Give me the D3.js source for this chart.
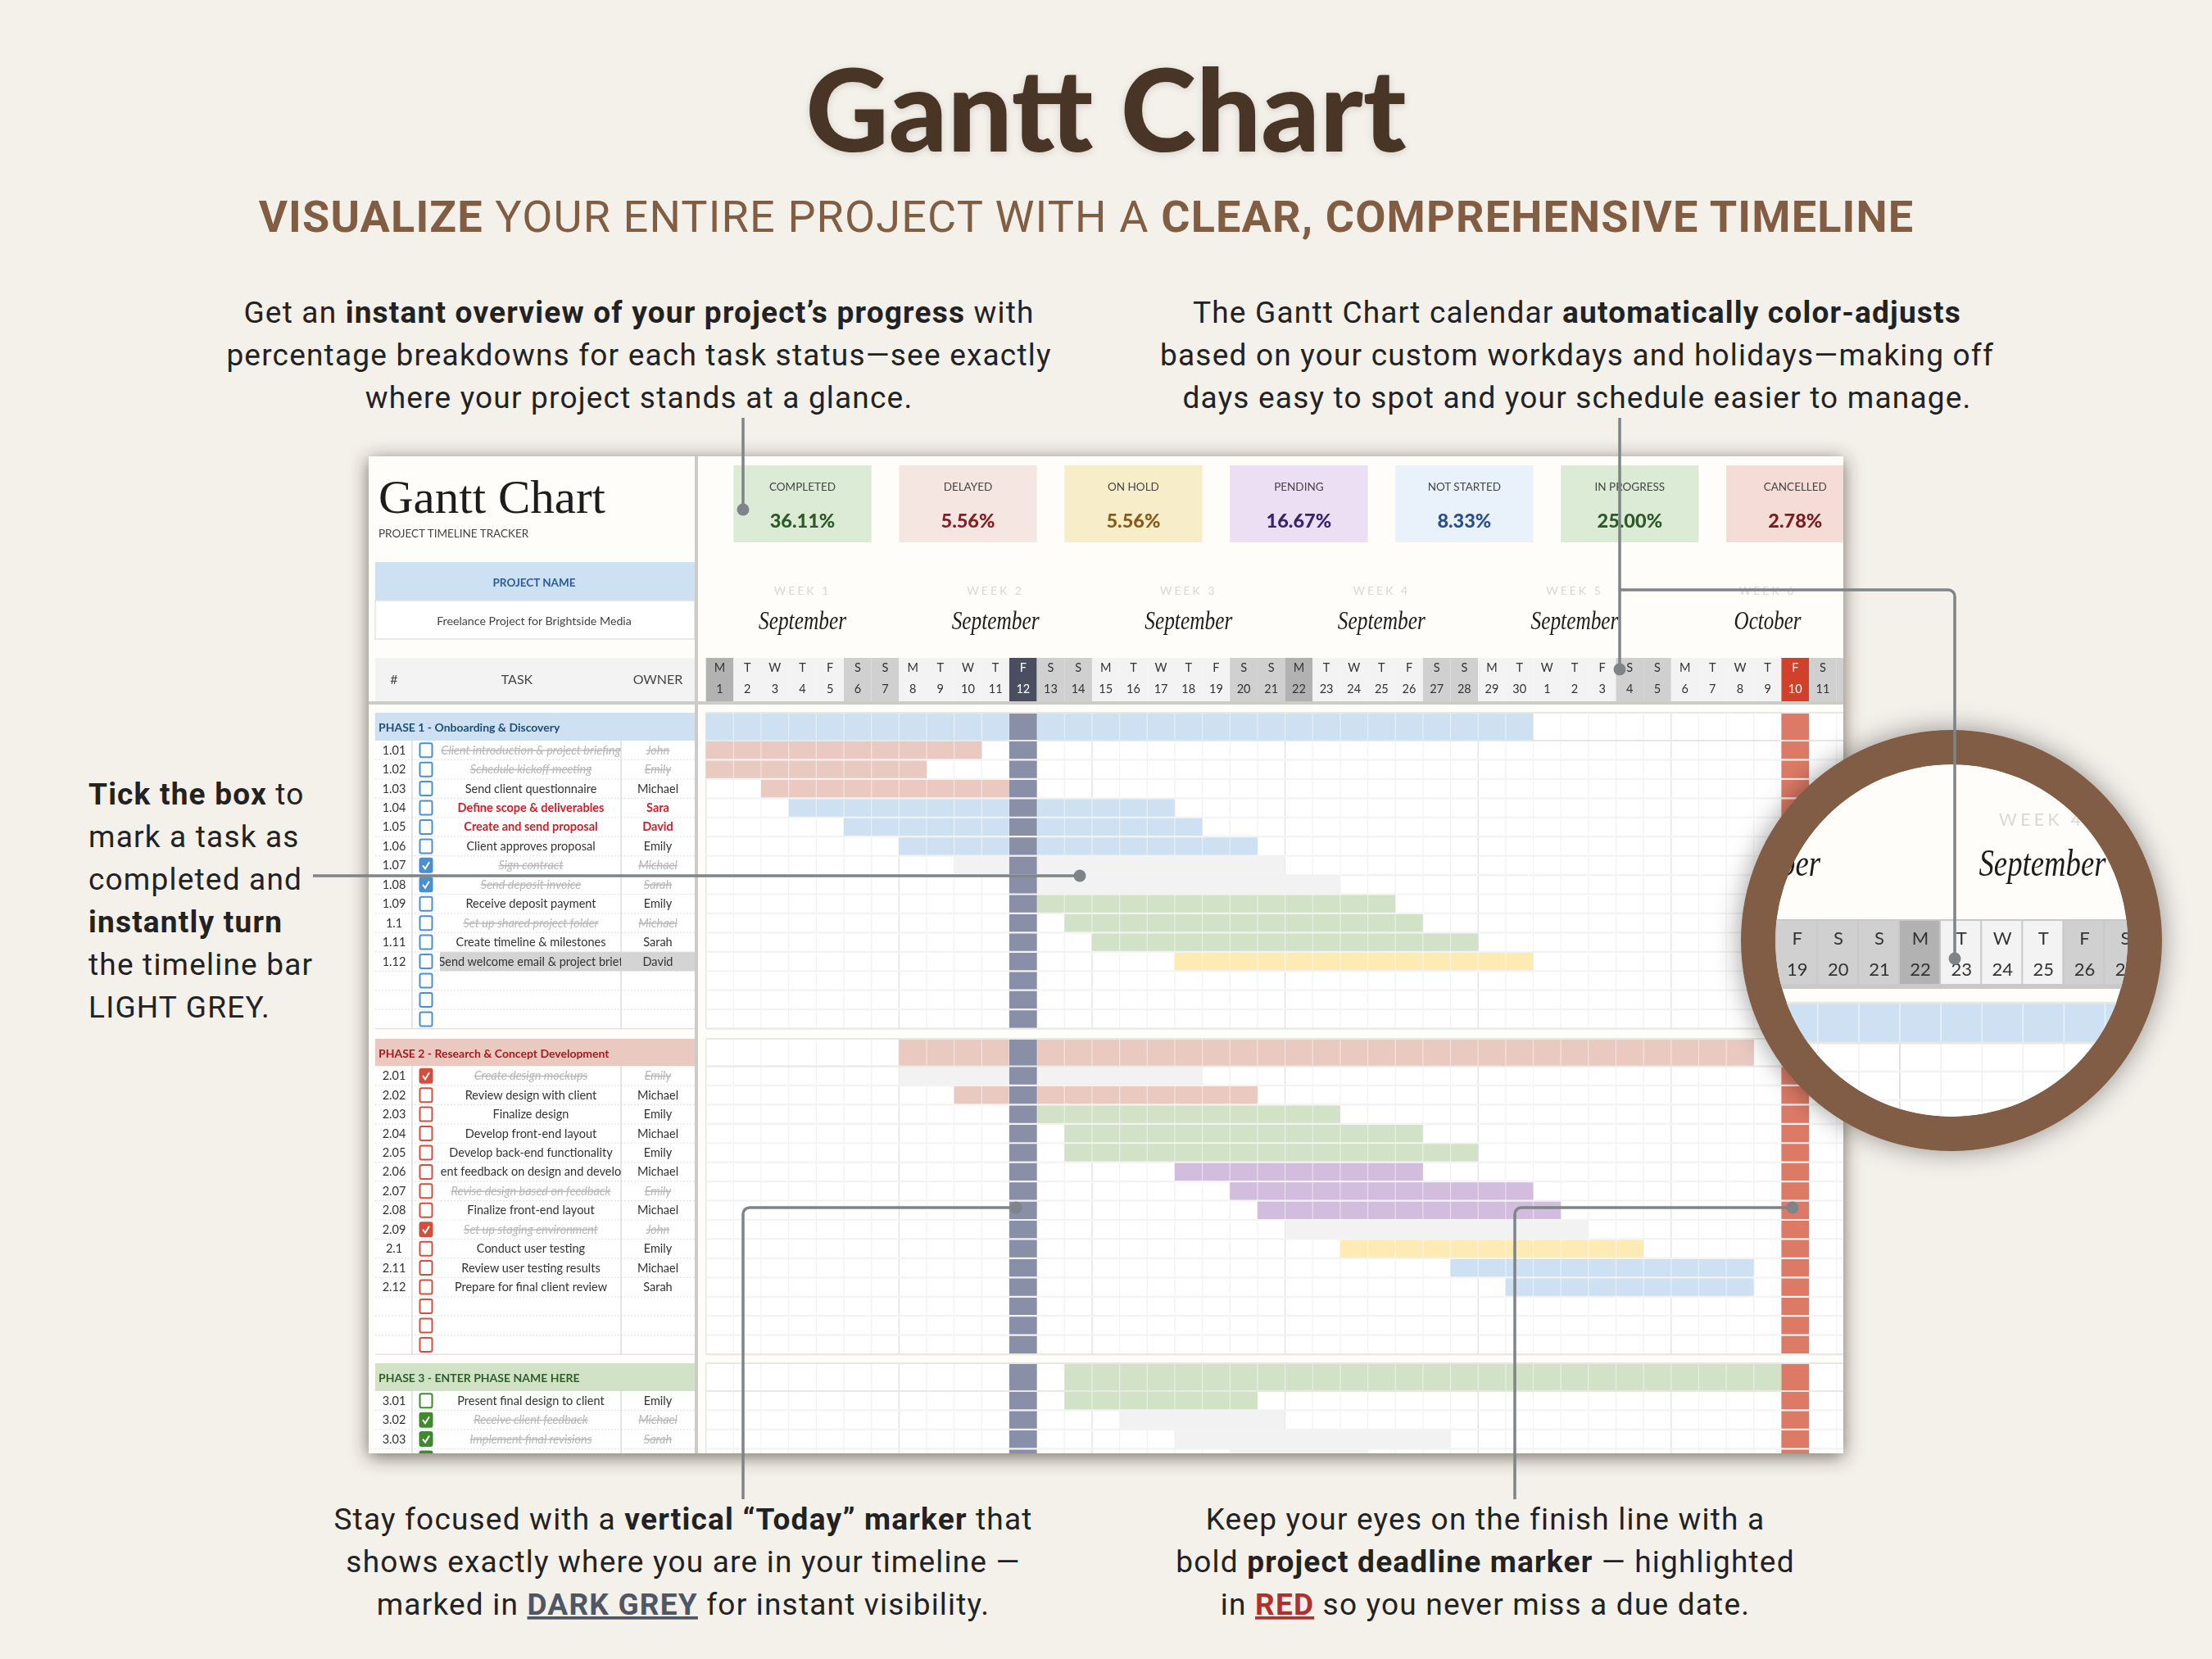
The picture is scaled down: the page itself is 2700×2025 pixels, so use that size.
<!DOCTYPE html>
<html>
<head>
<meta charset="utf-8">
<script src="https://cdn.jsdelivr.net/npm/d3@7/dist/d3.min.js"></script>
<style>
  body { margin: 0; background: #f4f0ea; }
  svg { display: block; }
  .axis path, .axis line { display: none; }
</style>
</head>
<body>
<div id="chart"></div>
<script>
var svgWidth = 2700;
var svgHeight = 2025;

// Calendar
var dayNumbers = [1,2,3,4,5,6,7,8,9,10,11,12,13,14,15,16,17,18,19,20,21,22,23,24,25,26,27,28,29,30,1,2,3,4,5,6,7,8,9,10,11];
var dayLetters = ["M","T","W","T","F","S","S","M","T","W","T","F","S","S","M","T","W","T","F","S","S","M","T","W","T","F","S","S","M","T","W","T","F","S","S","M","T","W","T","F","S"];
var offDays = [5,6,12,13,19,20,26,27,33,34,40,41];
var zoomOffDays = [18,19,20,25,26,27];
var markedMondays = [0,21];
var todayCol = 11;
var deadlineCol = 39;
var weekNames = ["WEEK 1","WEEK 2","WEEK 3","WEEK 4","WEEK 5","WEEK 6"];
var weekMonths = ["September","September","September","September","September","October"];

// Status tiles
var statusNames = ["COMPLETED","DELAYED","ON HOLD","PENDING","NOT STARTED","IN PROGRESS","CANCELLED"];
var statusValues = [36.11,5.56,5.56,16.67,8.33,25.00,2.78];
var statusFills = ["#dcebd5","#f5e6e2","#f7edc8","#ecdff3","#e9f1fa","#dcebd5","#f6dcd6"];
var statusInks = ["#2d5a2a","#8a1a20","#8a5a1a","#3a2070","#2a5090","#2d5a2a","#7a1a20"];

// Phase 1
var phase1Ids = ["1.01","1.02","1.03","1.04","1.05","1.06","1.07","1.08","1.09","1.1","1.11","1.12"];
var phase1Names = ["Client introduction & project briefing","Schedule kickoff meeting","Send client questionnaire","Define scope & deliverables","Create and send proposal","Client approves proposal","Sign contract","Send deposit invoice","Receive deposit payment","Set up shared project folder","Create timeline & milestones","Send welcome email & project brief"];
var phase1Owners = ["John","Emily","Michael","Sara","David","Emily","Michael","Sarah","Emily","Michael","Sarah","David"];
var phase1Styles = ["done","done","plain","late","late","plain","done","done","plain","done","plain","mark"];
var phase1Checked = [0,0,0,0,0,0,1,1,0,0,0,0,0,0,0];
var phase1Starts = [0,0,2,3,5,7,9,11,12,13,14,17];
var phase1Ends = [10,8,11,17,18,20,21,23,25,26,28,30];
var phase1Bars = ["red","red","red","blue","blue","blue","grey","grey","green","green","green","yellow"];

// Phase 2
var phase2Ids = ["2.01","2.02","2.03","2.04","2.05","2.06","2.07","2.08","2.09","2.1","2.11","2.12"];
var phase2Names = ["Create design mockups","Review design with client","Finalize design","Develop front-end layout","Develop back-end functionality","Get client feedback on design and development","Revise design based on feedback","Finalize front-end layout","Set up staging environment","Conduct user testing","Review user testing results","Prepare for final client review"];
var phase2Owners = ["Emily","Michael","Emily","Michael","Emily","Michael","Emily","Michael","John","Emily","Michael","Sarah"];
var phase2Styles = ["done","plain","plain","plain","plain","plain","done","plain","done","plain","plain","plain"];
var phase2Checked = [1,0,0,0,0,0,0,0,1,0,0,0,0,0,0];
var phase2Starts = [7,9,11,13,13,17,19,20,21,23,27,29];
var phase2Ends = [18,20,23,26,28,26,30,31,32,34,38,38];
var phase2Bars = ["grey","red","green","green","green","purple","purple","purple","grey","yellow","blue","blue"];

// Phase 3
var phase3Ids = ["3.01","3.02","3.03",""];
var phase3Names = ["Present final design to client","Receive client feedback","Implement final revisions",""];
var phase3Owners = ["Emily","Michael","Sarah",""];
var phase3Styles = ["plain","done","done","plain"];
var phase3Checked = [0,1,1,1];
var phase3Starts = [13,15,17,19];
var phase3Ends = [20,21,27,24];
var phase3Bars = ["green","grey","grey","grey"];

var barColors = {
    red: "#eac9c1",
    blue: "#cde1f2",
    green: "#d1e2c6",
    grey: "#f2f2f2",
    yellow: "#feebb4",
    purple: "#d3bddf"
};

var phases = [
    { title: "PHASE 1 - Onboarding & Discovery", fill: "#cde1f2", ink: "#1f4e79", box: "#4a90d2", top: 870, headBottom: 904, span: [0, 30], ids: phase1Ids, names: phase1Names, owners: phase1Owners, styles: phase1Styles, checked: phase1Checked, starts: phase1Starts, ends: phase1Ends, bars: phase1Bars, rows: 15 },
    { title: "PHASE 2 - Research & Concept Development", fill: "#eac9c1", ink: "#a61c1c", box: "#d2503e", top: 1268, headBottom: 1301.5, span: [7, 38], ids: phase2Ids, names: phase2Names, owners: phase2Owners, styles: phase2Styles, checked: phase2Checked, starts: phase2Starts, ends: phase2Ends, bars: phase2Bars, rows: 15 },
    { title: "PHASE 3 - ENTER PHASE NAME HERE", fill: "#d1e2c6", ink: "#2f5f2a", box: "#3f8a2f", top: 1664, headBottom: 1698, span: [13, 39], ids: phase3Ids, names: phase3Names, owners: phase3Owners, styles: phase3Styles, checked: phase3Checked, starts: phase3Starts, ends: phase3Ends, bars: phase3Bars, rows: 5 }
];

var rowHeight = 23.44;
var sheetFont = "Lato, 'Open Sans', sans-serif";
var noteFont = "Roboto, sans-serif";
var serifFont = "'Liberation Serif', serif";

// Column scale of the sheet and the same columns at magnifier size
var xDay = d3.scaleLinear().domain([0, 42]).range([861.7, 861.7 + 42 * 33.66]);
var xZoom = d3.scaleLinear().domain([21, 22]).range([2319, 2369.1]);

var svg = d3.select("#chart")
    .append("svg")
    .attr("width", svgWidth)
    .attr("height", svgHeight);

var defs = svg.append("defs");

var panelShadow = defs.append("filter").attr("id", "panelShadow")
    .attr("x", "-5%").attr("y", "-5%").attr("width", "110%").attr("height", "110%");
panelShadow.append("feDropShadow")
    .attr("dx", 0).attr("dy", 4).attr("stdDeviation", 11)
    .attr("flood-color", "#3a3226").attr("flood-opacity", 0.7);

var ringShadow = defs.append("filter").attr("id", "ringShadow")
    .attr("x", "-20%").attr("y", "-20%").attr("width", "140%").attr("height", "140%");
ringShadow.append("feDropShadow")
    .attr("dx", 0).attr("dy", 0).attr("stdDeviation", 16)
    .attr("flood-color", "#000").attr("flood-opacity", 0.4);

var titleShadow = defs.append("filter").attr("id", "titleShadow")
    .attr("x", "-5%").attr("y", "-10%").attr("width", "110%").attr("height", "120%");
titleShadow.append("feDropShadow")
    .attr("dx", 0).attr("dy", 2).attr("stdDeviation", 4)
    .attr("flood-color", "#000").attr("flood-opacity", 0.14);

// the sheet is a soft screenshot in the original
var sheetSoft = defs.append("filter").attr("id", "sheetSoft")
    .attr("x", "0%").attr("y", "0%").attr("width", "100%").attr("height", "100%");
sheetSoft.append("feGaussianBlur").attr("stdDeviation", 0.55);

function addClip(id, x, y, w, h) {
    defs.append("clipPath").attr("id", id)
        .append("rect").attr("x", x).attr("y", y).attr("width", w).attr("height", h);
}
addClip("panelClip", 450, 557, 1800, 1217);
addClip("taskClip", 537, 0, 221, 2025);
defs.append("clipPath").attr("id", "lensClip")
    .append("circle").attr("cx", 2382).attr("cy", 1148).attr("r", 215);

// Page title
svg.append("rect").attr("width", svgWidth).attr("height", svgHeight).attr("fill", "#f4f0ea");

svg.append("text")
    .attr("x", 1350).attr("y", 185)
    .attr("text-anchor", "middle")
    .attr("font-family", "Lato, sans-serif")
    .attr("font-weight", 900)
    .attr("font-size", 140)
    .attr("fill", "#4a3525")
    .attr("filter", "url(#titleShadow)")
    .text("Gantt Chart");

// writes one line of mixed regular and bold runs
function writeLine(parent, x, y, runs, size, anchor, spacing, fill) {
    var t = parent.append("text")
        .attr("x", x).attr("y", y)
        .attr("text-anchor", anchor)
        .attr("font-family", noteFont)
        .attr("font-size", size)
        .attr("letter-spacing", spacing)
        .attr("fill", fill);
    runs.forEach(function (r) {
        var s = t.append("tspan").text(r.text);
        if (r.bold) s.attr("font-weight", 700);
        if (r.fill) s.attr("fill", r.fill);
        if (r.line) s.attr("text-decoration", "underline");
    });
}

writeLine(svg, 1326, 283, [
    { text: "VISUALIZE", bold: true },
    { text: " YOUR ENTIRE PROJECT WITH A " },
    { text: "CLEAR, COMPREHENSIVE TIMELINE", bold: true }
], 54, "middle", 1.15, "#825d42");

var noteTopLeft = [
    [{ text: "Get an " }, { text: "instant overview of your project\u2019s progress", bold: true }, { text: " with" }],
    [{ text: "percentage breakdowns for each task status\u2014see exactly" }],
    [{ text: "where your project stands at a glance." }]
];
var noteTopRight = [
    [{ text: "The Gantt Chart calendar " }, { text: "automatically color-adjusts", bold: true }],
    [{ text: "based on your custom workdays and holidays\u2014making off" }],
    [{ text: "days easy to spot and your schedule easier to manage." }]
];
var noteLeft = [
    [{ text: "Tick the box", bold: true }, { text: " to" }],
    [{ text: "mark a task as" }],
    [{ text: "completed and" }],
    [{ text: "instantly turn", bold: true }],
    [{ text: "the timeline bar" }],
    [{ text: "LIGHT GREY." }]
];
var noteBottomLeft = [
    [{ text: "Stay focused with a " }, { text: "vertical \u201CToday\u201D marker", bold: true }, { text: " that" }],
    [{ text: "shows exactly where you are in your timeline \u2014" }],
    [{ text: "marked in " }, { text: "DARK GREY", bold: true, fill: "#4f5766", line: true }, { text: " for instant visibility." }]
];
var noteBottomRight = [
    [{ text: "Keep your eyes on the finish line with a" }],
    [{ text: "bold " }, { text: "project deadline marker", bold: true }, { text: " \u2014 highlighted" }],
    [{ text: "in " }, { text: "RED", bold: true, fill: "#b03030", line: true }, { text: " so you never miss a due date." }]
];

noteTopLeft.forEach(function (l, i) { writeLine(svg, 780, 394 + i * 52, l, 37, "middle", 1.2, "#222"); });
noteTopRight.forEach(function (l, i) { writeLine(svg, 1925, 394 + i * 52, l, 37, "middle", 1.2, "#222"); });
noteLeft.forEach(function (l, i) { writeLine(svg, 108, 982 + i * 52, l, 37, "start", 1.2, "#222"); });
noteBottomLeft.forEach(function (l, i) { writeLine(svg, 834, 1867 + i * 52, l, 37, "middle", 1.2, "#222"); });
noteBottomRight.forEach(function (l, i) { writeLine(svg, 1813, 1867 + i * 52, l, 37, "middle", 1.2, "#222"); });

// The sheet
svg.append("rect")
    .attr("x", 450).attr("y", 557).attr("width", 1800).attr("height", 1217)
    .attr("fill", "#fefdf9")
    .attr("filter", "url(#panelShadow)");

var sheetSoftGroup = svg.append("g").attr("filter", "url(#sheetSoft)");
var sheet = sheetSoftGroup.append("g").attr("clip-path", "url(#panelClip)");

sheet.append("text")
    .attr("x", 462).attr("y", 626)
    .attr("font-family", serifFont).attr("font-size", 56)
    .attr("textLength", 277).attr("lengthAdjust", "spacingAndGlyphs")
    .attr("fill", "#1c1c1c")
    .text("Gantt Chart");

sheet.append("text")
    .attr("x", 462).attr("y", 656)
    .attr("font-family", sheetFont).attr("font-size", 13.5)
    .attr("fill", "#444")
    .text("PROJECT TIMELINE TRACKER");

sheet.append("rect").attr("x", 458).attr("y", 686).attr("width", 390).attr("height", 47).attr("fill", "#cde1f2");
sheet.append("rect").attr("x", 458).attr("y", 733).attr("width", 390).attr("height", 47)
    .attr("fill", "#fff").attr("stroke", "#e2e2e2").attr("stroke-width", 1.5);
sheet.append("text")
    .attr("x", 652).attr("y", 716).attr("text-anchor", "middle")
    .attr("font-family", sheetFont).attr("font-size", 13.5).attr("font-weight", 700)
    .attr("fill", "#2a5aa0")
    .text("PROJECT NAME");
sheet.append("text")
    .attr("x", 652).attr("y", 763).attr("text-anchor", "middle")
    .attr("font-family", sheetFont).attr("font-size", 14.2)
    .attr("fill", "#444")
    .text("Freelance Project for Brightside Media");

// Task header row
sheet.append("rect").attr("x", 458).attr("y", 803).attr("width", 390).attr("height", 53).attr("fill", "#f3f3f3");
var headerLabels = ["#", "TASK", "OWNER"];
var headerCentres = [481, 631, 803];
headerLabels.forEach(function (d, i) {
    sheet.append("text")
        .attr("x", headerCentres[i]).attr("y", 835).attr("text-anchor", "middle")
        .attr("font-family", sheetFont).attr("font-size", 16)
        .attr("fill", "#444")
        .text(d);
});

// Status tiles
statusNames.forEach(function (d, i) {
    var x0 = xDay(1 + i * 6);
    var x1 = xDay(6 + i * 6);
    var cx = (x0 + x1) / 2;
    sheet.append("rect")
        .attr("x", x0).attr("y", 568).attr("width", x1 - x0).attr("height", 94)
        .attr("fill", statusFills[i]);
    sheet.append("text")
        .attr("x", cx).attr("y", 599).attr("text-anchor", "middle")
        .attr("font-family", sheetFont).attr("font-size", 13.5)
        .attr("fill", "#444")
        .text(d);
    sheet.append("text")
        .attr("x", cx).attr("y", 644).attr("text-anchor", "middle")
        .attr("font-family", sheetFont).attr("font-size", 23.5).attr("font-weight", 900)
        .attr("fill", statusInks[i])
        .text(d3.format(".2f")(statusValues[i]) + "%");
});

// Week labels
weekNames.forEach(function (d, i) {
    var cx = xDay(i * 7 + 3.5);
    sheet.append("text")
        .attr("x", cx).attr("y", 726).attr("text-anchor", "middle")
        .attr("font-family", sheetFont).attr("font-size", 14).attr("letter-spacing", 3)
        .attr("fill", "#d8d8d4")
        .text(d);
    sheet.append("text")
        .attr("x", cx).attr("y", 768).attr("text-anchor", "middle")
        .attr("font-family", serifFont).attr("font-size", 31).attr("font-style", "italic")
        .attr("textLength", weekMonths[i] == "October" ? 82 : 107).attr("lengthAdjust", "spacingAndGlyphs")
        .attr("fill", "#1c1c1c")
        .text(weekMonths[i]);
});

function dayFill(i) {
    if (i == todayCol) return "#4a5060";
    if (i == deadlineCol) return "#d0402a";
    if (markedMondays.indexOf(i) >= 0) return "#b2b2b2";
    if (offDays.indexOf(i) >= 0) return "#d0d0d0";
    return "#f3f3f3";
}

// 42 cells, the last one runs off the sheet without a label
var dayCells = d3.range(42);
var dayIndex = d3.range(dayNumbers.length);

sheet.selectAll(".dayCell")
    .data(dayCells)
    .enter()
    .append("rect")
    .attr("class", "dayCell")
    .attr("x", d => xDay(d))
    .attr("y", 803)
    .attr("width", xDay(1) - xDay(0))
    .attr("height", 53)
    .attr("fill", dayFill);

// day letters and dates are two axes on the column scale
var xBand = d3.scaleBand().domain(dayCells).range(xDay.range());

function dayAxis(y, labels) {
    var axisGroup = sheet.append("g")
        .attr("class", "axis")
        .attr("transform", `translate(0, ${y})`)
        .call(d3.axisBottom(xBand).tickValues(dayIndex).tickSize(0).tickPadding(0).tickFormat(d => labels[d]));
    axisGroup.selectAll("text")
        .attr("font-family", sheetFont)
        .attr("font-size", 14.5)
        .attr("fill", d => (d == todayCol || d == deadlineCol) ? "#fff" : "#333");
}
dayAxis(810, dayLetters);
dayAxis(836, dayNumbers);

// Divider lines of the sheet
sheet.append("rect").attr("x", 450).attr("y", 856).attr("width", 1800).attr("height", 4).attr("fill", "#cbcbc9");
sheet.append("rect").attr("x", 848).attr("y", 557).attr("width", 4).attr("height", 1217).attr("fill", "#cbcbc9");

// Timeline rows of one phase, used for the sheet and for the magnifier
function drawTimeline(parent, phase, x, top, headBottom, rowH, lineWidth, showMarkers) {
    var rows = d3.range(phase.rows);
    var yRow = d3.scaleLinear().domain([0, phase.rows]).range([headBottom, headBottom + phase.rows * rowH]);
    var bottom = yRow(phase.rows);
    var columns = d3.range(42);

    parent.append("rect")
        .attr("x", x(0)).attr("y", top).attr("width", x(42) - x(0)).attr("height", bottom - top)
        .attr("fill", "#fff");

    // column lines on white, every seventh one stronger
    parent.selectAll(null)
        .data(columns)
        .enter()
        .append("line")
        .attr("x1", d => x(d)).attr("x2", d => x(d))
        .attr("y1", top).attr("y2", bottom)
        .attr("stroke", d => d % 7 == 0 ? "#dfdfdf" : "#f1f2f4")
        .attr("stroke-width", lineWidth);

    // phase summary bar
    parent.append("rect")
        .attr("x", x(phase.span[0])).attr("y", top)
        .attr("width", x(phase.span[1]) - x(phase.span[0]))
        .attr("height", headBottom - top)
        .attr("fill", phase.fill);

    // task bars
    parent.selectAll(null)
        .data(phase.starts)
        .enter()
        .append("rect")
        .attr("x", d => x(d))
        .attr("y", (d, i) => yRow(i))
        .attr("width", (d, i) => x(phase.ends[i]) - x(d))
        .attr("height", yRow(1) - yRow(0))
        .attr("fill", (d, i) => barColors[phase.bars[i]]);

    // pale day cuts inside the bars
    var cuts = [];
    d3.range(phase.span[0] + 1, phase.span[1]).forEach(function (c) {
        cuts.push({ col: c, y0: top, y1: headBottom });
    });
    phase.starts.forEach(function (s, i) {
        if (phase.bars[i] == "grey") return;
        d3.range(s + 1, phase.ends[i]).forEach(function (c) {
            cuts.push({ col: c, y0: yRow(i), y1: yRow(i + 1) });
        });
    });
    parent.selectAll(null)
        .data(cuts)
        .enter()
        .append("line")
        .attr("x1", d => x(d.col)).attr("x2", d => x(d.col))
        .attr("y1", d => d.y0).attr("y2", d => d.y1)
        .attr("stroke", "#ffffff")
        .attr("stroke-opacity", 0.5)
        .attr("stroke-width", lineWidth);

    if (showMarkers) {
        parent.append("rect")
            .attr("x", x(todayCol)).attr("y", top)
            .attr("width", x(todayCol + 1) - x(todayCol)).attr("height", bottom - top)
            .attr("fill", "#8a8fa8");
        parent.append("rect")
            .attr("x", x(deadlineCol)).attr("y", top)
            .attr("width", x(deadlineCol + 1) - x(deadlineCol)).attr("height", bottom - top)
            .attr("fill", "#dd7a66");
    }

    // row lines
    parent.selectAll(null)
        .data(rows.concat([phase.rows]))
        .enter()
        .append("line")
        .attr("x1", x(0)).attr("x2", x(42))
        .attr("y1", d => yRow(d)).attr("y2", d => yRow(d))
        .attr("stroke", (d, i) => i == 0 || d == phase.rows ? "#e8e8e6" : "#f3f3f3")
        .attr("stroke-width", lineWidth + 1);

    // top edge
    parent.append("line")
        .attr("x1", x(0)).attr("x2", x(42))
        .attr("y1", top).attr("y2", top)
        .attr("stroke", "#e8e8e6").attr("stroke-width", lineWidth + 0.6);
}

// Left table of one phase
function drawTable(phase) {
    var yRow = d3.scaleLinear().domain([0, phase.rows]).range([phase.headBottom, phase.headBottom + phase.rows * rowHeight]);
    var bottom = yRow(phase.rows);
    var rows = d3.range(phase.rows);
    var yMid = d => yRow(d) + rowHeight / 2;

    sheet.append("rect")
        .attr("x", 458).attr("y", phase.top).attr("width", 390).attr("height", phase.headBottom - phase.top)
        .attr("fill", phase.fill);
    sheet.append("text")
        .attr("x", 462).attr("y", phase.top + 23)
        .attr("font-family", sheetFont).attr("font-size", 14).attr("font-weight", 700)
        .attr("fill", phase.ink)
        .text(phase.title);

    sheet.append("rect")
        .attr("x", 458).attr("y", phase.headBottom).attr("width", 390).attr("height", bottom - phase.headBottom)
        .attr("fill", "#fff");

    // highlighted row
    phase.styles.forEach(function (s, i) {
        if (s == "mark") {
            sheet.append("rect")
                .attr("x", 537).attr("y", yRow(i)).attr("width", 311).attr("height", rowHeight)
                .attr("fill", "#d4d4d4");
        }
    });

    sheet.selectAll(null)
        .data(rows)
        .enter()
        .append("line")
        .attr("x1", 458).attr("x2", 848)
        .attr("y1", d => yRow(d + 1)).attr("y2", d => yRow(d + 1))
        .attr("stroke", (d) => d == phase.rows - 1 ? "#dedede" : "#e4e4e4")
        .attr("stroke-width", 1.2)
        .attr("stroke-dasharray", d => d == phase.rows - 1 ? null : "2,2");

    [503, 758].forEach(function (x) {
        sheet.append("line")
            .attr("x1", x).attr("x2", x)
            .attr("y1", phase.headBottom).attr("y2", bottom)
            .attr("stroke", "#d4d4d4").attr("stroke-width", 1.2);
    });

    sheet.selectAll(null)
        .data(phase.ids)
        .enter()
        .append("text")
        .attr("x", 481).attr("y", (d, i) => yMid(i) + 5)
        .attr("text-anchor", "middle")
        .attr("font-family", sheetFont).attr("font-size", 14.5)
        .attr("fill", "#333")
        .text(d => d);

    // task names, struck through when done and clipped to their cell
    var nameStyle = {
        plain: { fill: "#333", weight: 400, style: "normal", deco: "none" },
        mark: { fill: "#333", weight: 400, style: "normal", deco: "none" },
        late: { fill: "#d21f2a", weight: 700, style: "normal", deco: "none" },
        done: { fill: "#b8b8b8", weight: 400, style: "italic", deco: "line-through" }
    };

    var nameGroup = sheet.append("g").attr("clip-path", "url(#taskClip)");
    nameGroup.selectAll(null)
        .data(phase.names)
        .enter()
        .append("text")
        .attr("x", 648).attr("y", (d, i) => yMid(i) + 5)
        .attr("text-anchor", "middle")
        .attr("font-family", sheetFont).attr("font-size", 14.5)
        .attr("fill", (d, i) => nameStyle[phase.styles[i]].fill)
        .attr("font-weight", (d, i) => nameStyle[phase.styles[i]].weight)
        .attr("font-style", (d, i) => nameStyle[phase.styles[i]].style)
        .attr("text-decoration", (d, i) => nameStyle[phase.styles[i]].deco)
        .text(d => d);

    sheet.selectAll(null)
        .data(phase.owners)
        .enter()
        .append("text")
        .attr("x", 803).attr("y", (d, i) => yMid(i) + 5)
        .attr("text-anchor", "middle")
        .attr("font-family", sheetFont).attr("font-size", 14.5)
        .attr("fill", (d, i) => nameStyle[phase.styles[i]].fill)
        .attr("font-weight", (d, i) => nameStyle[phase.styles[i]].weight)
        .attr("font-style", (d, i) => nameStyle[phase.styles[i]].style)
        .attr("text-decoration", (d, i) => nameStyle[phase.styles[i]].deco)
        .text(d => d);

    // check boxes
    var boxes = sheet.selectAll(null)
        .data(phase.checked)
        .enter()
        .append("g")
        .attr("transform", (d, i) => `translate(520, ${yMid(i)})`);
    boxes.append("rect")
        .attr("x", -7.5).attr("y", -8.5).attr("width", 15).attr("height", 17).attr("rx", 2)
        .attr("fill", d => d ? phase.box : "#fff")
        .attr("stroke", phase.box)
        .attr("stroke-width", 2);
    boxes.filter(d => d)
        .append("path")
        .attr("d", "M-4,0 L-1,4 L4,-4")
        .attr("fill", "none")
        .attr("stroke", "#fff")
        .attr("stroke-width", 2);
}

phases.forEach(function (p) {
    drawTable(p);
    drawTimeline(sheet, p, xDay, p.top, p.headBottom, rowHeight, 1.2, true);
});

// Magnifier
svg.append("circle")
    .attr("cx", 2382).attr("cy", 1148).attr("r", 257)
    .attr("fill", "#825d45")
    .attr("filter", "url(#ringShadow)");

var lens = svg.append("g").attr("clip-path", "url(#lensClip)");
lens.append("circle").attr("cx", 2382).attr("cy", 1148).attr("r", 215).attr("fill", "#fefdf9");

lens.append("text")
    .attr("x", 2440).attr("y", 1008)
    .attr("font-family", sheetFont).attr("font-size", 21).attr("letter-spacing", 4.5)
    .attr("fill", "#d8d8d4")
    .text(weekNames[3]);
lens.append("text")
    .attr("x", 2493).attr("y", 1069).attr("text-anchor", "middle")
    .attr("font-family", serifFont).attr("font-size", 46).attr("font-style", "italic")
    .attr("textLength", 155).attr("lengthAdjust", "spacingAndGlyphs")
    .attr("fill", "#1c1c1c")
    .text(weekMonths[3]);
lens.append("text")
    .attr("x", 2144.5).attr("y", 1069).attr("text-anchor", "middle")
    .attr("font-family", serifFont).attr("font-size", 46).attr("font-style", "italic")
    .attr("textLength", 155).attr("lengthAdjust", "spacingAndGlyphs")
    .attr("fill", "#1c1c1c")
    .text(weekMonths[2]);

lens.append("rect")
    .attr("x", 2160).attr("y", 1122).attr("width", 440).attr("height", 85)
    .attr("fill", "#c9c9c9");

var zoomDays = d3.range(17, 27);
lens.selectAll(null)
    .data(zoomDays.concat([27]))
    .enter()
    .append("rect")
    .attr("x", d => xZoom(d))
    .attr("y", 1124)
    .attr("width", xZoom(1) - xZoom(0) - 2)
    .attr("height", 77)
    .attr("fill", d => markedMondays.indexOf(d) >= 0 ? "#b2b2b2" : zoomOffDays.indexOf(d) >= 0 ? "#d0d0d0" : "#f3f3f3");

lens.selectAll(null)
    .data(zoomDays)
    .enter()
    .append("text")
    .attr("x", d => xZoom(d + 0.5))
    .attr("y", 1153)
    .attr("text-anchor", "middle")
    .attr("font-family", sheetFont).attr("font-size", 22)
    .attr("fill", "#333")
    .text(d => dayLetters[d]);

lens.selectAll(null)
    .data(zoomDays)
    .enter()
    .append("text")
    .attr("x", d => xZoom(d + 0.5))
    .attr("y", 1191)
    .attr("text-anchor", "middle")
    .attr("font-family", sheetFont).attr("font-size", 22)
    .attr("fill", "#333")
    .text(d => dayNumbers[d]);

drawTimeline(lens, phases[0], xZoom, 1224, 1273, rowHeight * 1.49, 1.8, false);

// Callout lines
var calloutColor = "#7f8488";

function calloutPath(points, radius) {
    var p = d3.path();
    p.moveTo(points[0][0], points[0][1]);
    for (var i = 1; i < points.length - 1; i++) {
        p.arcTo(points[i][0], points[i][1], points[i + 1][0], points[i + 1][1], radius);
    }
    p.lineTo(points[points.length - 1][0], points[points.length - 1][1]);
    return p.toString();
}

function callout(points, width) {
    var end = points[points.length - 1];
    svg.append("path")
        .attr("d", calloutPath(points, 8))
        .attr("fill", "none")
        .attr("stroke", calloutColor)
        .attr("stroke-width", width);
    svg.append("circle")
        .attr("cx", end[0]).attr("cy", end[1]).attr("r", 7.5)
        .attr("fill", calloutColor);
}

callout([[907, 510], [907, 622]], 3.5);
callout([[1977, 510], [1977, 817]], 3.5);
callout([[1977, 720], [2386, 720], [2386, 1170]], 3.5);
callout([[382, 1069], [1318, 1069]], 3.5);
callout([[907, 1830], [907, 1474], [1240, 1474]], 3.5);
callout([[1849, 1830], [1849, 1474], [2188, 1474]], 3.5);
</script>
</body>
</html>
